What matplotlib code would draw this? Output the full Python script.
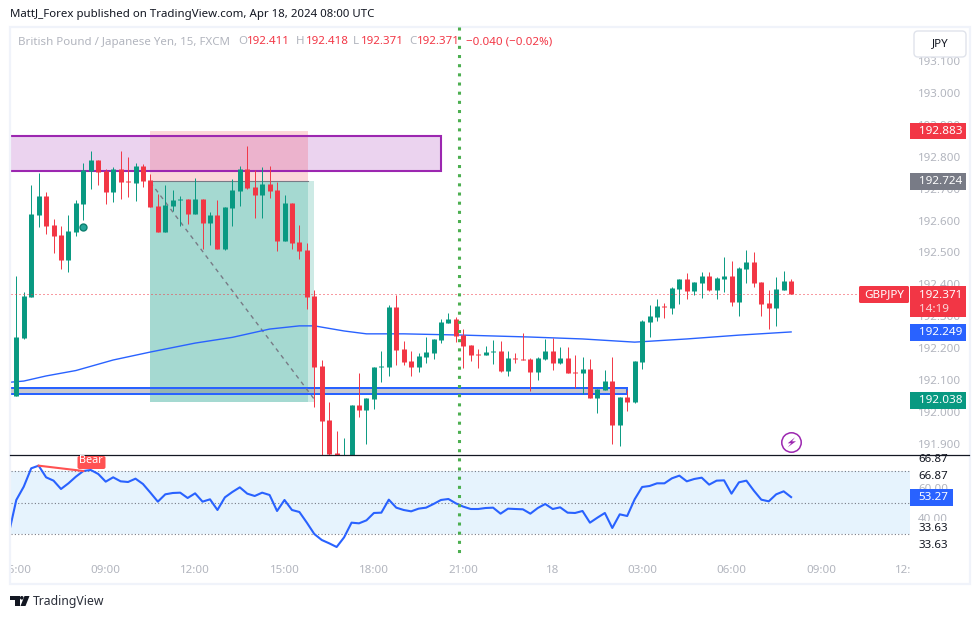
import matplotlib
matplotlib.use('Agg')
import matplotlib.pyplot as plt
from matplotlib.patches import Rectangle,FancyBboxPatch,Polygon,Circle
import numpy as np

plt.rcParams['font.family']=['Noto Sans','DejaVu Sans']

W,H=980,619
GREEN,RED,BLUE,PURPLE='#089981','#f23645','#2962ff','#9c27b0'
GRAY,DARK='#b2b5be','#131722'

# 15 minute bars, first bar is 06:00
opens=[192.050,192.232,192.361,192.618,192.677,192.587,192.555,192.477,192.565,192.653,192.755,192.790,192.755,192.689,192.761,192.724,192.718,192.771,192.727,192.646,192.565,192.646,192.665,192.668,192.621,192.668,192.593,192.618,192.511,192.640,192.692,192.761,192.705,192.680,192.714,192.696,192.536,192.656,192.533,192.508,192.364,192.144,191.975,191.871,191.849,191.849,192.022,192.006,192.041,192.141,192.141,192.329,192.197,192.160,192.141,192.172,192.185,192.226,192.279,192.292,192.241,192.210,192.182,192.179,192.188,192.191,192.129,192.169,192.166,192.166,192.125,192.166,192.191,192.154,192.169,192.125,192.122,192.135,192.044,192.069,192.097,191.959,192.047,192.031,192.157,192.282,192.298,192.332,192.326,192.386,192.417,192.379,192.404,192.426,192.382,192.417,192.426,192.345,192.448,192.470,192.408,192.342,192.326,192.382,192.411]
highs=[192.426,192.376,192.711,192.749,192.689,192.605,192.583,192.618,192.665,192.780,192.818,192.790,192.761,192.768,192.818,192.799,192.780,192.777,192.746,192.683,192.711,192.696,192.677,192.668,192.733,192.668,192.627,192.665,192.643,192.730,192.771,192.834,192.758,192.768,192.771,192.721,192.680,192.656,192.587,192.530,192.382,192.163,192.031,191.940,191.918,192.022,192.122,192.044,192.141,192.191,192.336,192.367,192.222,192.191,192.185,192.235,192.229,192.292,192.310,192.298,192.260,192.210,192.197,192.207,192.226,192.222,192.191,192.185,192.248,192.169,192.172,192.229,192.232,192.204,192.204,192.179,192.172,192.166,192.072,192.132,192.172,192.047,192.069,192.160,192.288,192.336,192.354,192.342,192.392,192.417,192.436,192.408,192.439,192.439,192.423,192.486,192.473,192.455,192.508,192.502,192.408,192.382,192.423,192.442,192.418]
lows=[192.050,192.229,192.361,192.580,192.558,192.499,192.448,192.439,192.552,192.602,192.699,192.711,192.653,192.659,192.668,192.674,192.662,192.705,192.643,192.565,192.565,192.631,192.583,192.590,192.621,192.511,192.524,192.511,192.508,192.583,192.646,192.699,192.608,192.608,192.671,192.505,192.536,192.511,192.480,192.323,192.016,191.865,191.855,191.843,191.843,191.843,191.984,191.900,192.009,192.094,192.113,192.147,192.147,192.113,192.125,192.154,192.166,192.216,192.279,192.219,192.138,192.160,192.138,192.179,192.150,192.125,192.113,192.154,192.163,192.066,192.100,192.163,192.132,192.150,192.122,192.075,192.056,192.044,191.997,192.069,191.900,191.894,192.003,192.028,192.135,192.235,192.285,192.295,192.307,192.339,192.354,192.367,192.357,192.379,192.354,192.376,192.332,192.301,192.404,192.392,192.301,192.260,192.270,192.382,192.371]
closes=[192.235,192.364,192.621,192.677,192.583,192.552,192.477,192.568,192.656,192.758,192.790,192.752,192.689,192.761,192.721,192.721,192.771,192.724,192.643,192.565,192.649,192.665,192.668,192.621,192.668,192.593,192.618,192.511,192.643,192.696,192.761,192.702,192.680,192.714,192.692,192.536,192.656,192.530,192.505,192.361,192.141,191.972,191.868,191.859,191.855,192.022,192.006,192.044,192.141,192.144,192.329,192.194,192.157,192.141,192.175,192.188,192.229,192.282,192.292,192.238,192.207,192.179,192.179,192.188,192.191,192.129,192.169,192.166,192.163,192.125,192.169,192.191,192.154,192.169,192.122,192.122,192.135,192.044,192.072,192.097,191.959,192.047,192.031,192.160,192.285,192.301,192.332,192.329,192.389,192.417,192.379,192.408,192.426,192.382,192.420,192.426,192.345,192.451,192.470,192.404,192.339,192.326,192.386,192.411,192.371]

ema_bars=[-1,1,4,8,13,18,24,29,34,38,40,44,47,52,60,69,76,83,90,97,104]
ema_vals=[192.093,192.097,192.113,192.130,192.163,192.188,192.216,192.234,192.260,192.270,192.270,192.254,192.245,192.245,192.241,192.235,192.229,192.219,192.229,192.241,192.251]

rsi_vals=[34.2,51.75,58.78,68.46,69.86,63.71,61.95,57.55,60.54,64.06,67.05,67.58,65.47,61.42,63.71,61.60,61.24,63.00,60.19,55.61,50.87,54.74,55.44,55.61,52.80,55.26,50.87,52.10,46.47,53.15,55.97,58.43,55.09,53.86,55.61,54.38,45.94,51.75,46.47,45.41,39.78,33.80,30.64,28.88,26.94,32.04,39.78,39.43,41.01,44.89,45.06,51.92,47.70,46.47,45.76,47.17,47.70,49.63,51.75,52.27,49.99,48.23,46.99,46.99,47.52,47.70,44.53,47.17,46.99,46.82,44.53,47.52,49.63,46.99,47.87,45.06,44.89,45.94,39.78,42.42,44.89,36.97,44.18,43.30,52.10,58.60,59.13,60.54,60.54,63.18,64.59,61.60,62.83,63.53,59.84,61.95,62.12,55.09,61.07,61.95,56.67,51.92,51.04,54.74,56.32,53.27]
rsi_levels=[66.87,50,33.63]

price_ticks=[191.9,192.0,192.1,192.2,192.3,192.4,192.5,192.6,192.7,192.8,192.9,193.0,193.1]
time_bars=[0,12,24,36,48,60,72,84,96,108,120]
time_labels=['06:00','09:00','12:00','15:00','18:00','21:00','18','03:00','06:00','09:00','12:00']

last_price=192.371
zone_purple=(-1,57,192.755,192.865)
zone_blue=(-1,82,192.056,192.075)
pos_top,pos_entry,pos_bottom=192.880,192.724,192.032

# pixel helpers, axes are placed by hand to sit on the screenshot
x0,bar=16.3,7.45
def bx(px): return (px-x0)/bar
def pp(py): return 193-(py-93)/319.
def rv(py): return 50-(py-503.3)/1.895
def place(l,t,r,b,**kw): return fig.add_axes([l/W,1-b/H,(r-l)/W,(b-t)/H],**kw)

fig=plt.figure(figsize=(W/100,H/100),dpi=100,facecolor='white')

# price pane
ax=place(11,28,910,455)
ax.set_xlim(bx(11),bx(910))
ax.set_ylim(pp(455),pp(28))
for s in ax.spines.values(): s.set_visible(False)
ax.set_xticks([])
ax.yaxis.tick_right()
ax.set_yticks(price_ticks,['{:.3f}'.format(v) for v in price_ticks])
ax.tick_params('y',length=0,pad=6,labelsize=8.3,labelcolor=GRAY)

px,pw=zone_purple[0],zone_purple[1]-zone_purple[0]
ax.add_patch(Rectangle((px,zone_purple[2]),pw,zone_purple[3]-zone_purple[2],fc=PURPLE,alpha=.2,lw=0,zorder=1))
# position tool
ax.add_patch(Rectangle((18,pos_entry),21.1,pos_top-pos_entry,fc=RED,alpha=.2,lw=0,zorder=1.2))
ax.add_patch(Rectangle((18,pos_bottom),21.1,pos_entry-pos_bottom,fc=GREEN,alpha=.2,lw=0,zorder=1.2))
ax.add_patch(Rectangle((18,pos_bottom),22,pos_entry-pos_bottom,fc=GREEN,alpha=.2,lw=0,zorder=1.2))
ax.add_patch(Rectangle((px,zone_purple[2]),pw,zone_purple[3]-zone_purple[2],fc='none',ec=PURPLE,lw=1.5,zorder=2))
ax.add_patch(Rectangle((zone_blue[0],zone_blue[2]),zone_blue[1]-zone_blue[0],zone_blue[3]-zone_blue[2],fc=(0.47,0.48,0.53,.4),ec=BLUE,lw=1.44,zorder=2))
ax.plot([18,39.1],[pos_entry,pos_entry],color='#787b86',lw=.8,zorder=2)
ax.plot([18,40],[192.72,192.04],color='#787b86',lw=1,ls=(0,(3,3)),zorder=3)

ax.plot(ema_bars,ema_vals,color=BLUE,lw=1,zorder=3)

idx=np.arange(len(opens))
o,h,l,c=map(np.array,(opens,highs,lows,closes))
up=c>=o
cols=np.where(up,GREEN,RED)
tops,bots=np.maximum(o,c),np.minimum(o,c)
# wick and body both as snapped lines so they share a pixel centre
ax.vlines(idx,l,h,colors=cols,lw=.7,zorder=4,snap=True,capstyle='butt')
ax.vlines(idx,bots,np.maximum(tops,bots+0.0032),colors=cols,lw=3.58,zorder=4,snap=True,capstyle='butt')

ax.axhline(last_price,color=RED,lw=.72,ls=(0,(1,3)),zorder=5)
ax.plot([9],[192.580],'o',ms=5,mfc='#26a69a',mec='#0b7f6e',mew=1,zorder=6)
ax.plot([104],[191.905],'o',ms=14,mfc='white',mec=PURPLE,mew=1.1,zorder=6,clip_on=False)

# rsi pane, runs down through the time axis so labels clip at the edges
ax2=place(11,456,910,584)
ax2.set_xlim(bx(11),bx(910))
ax2.set_ylim(rv(584),rv(456))
ax2.axis('off')
ax2.axhspan(rsi_levels[2],rsi_levels[0],color='#2196f3',alpha=.11,lw=0)
for v in rsi_levels:
    ax2.axhline(v,color='#787b86',lw=.8,ls=(0,(1,2)))
ax2.plot(np.arange(-1,len(rsi_vals)-1),rsi_vals,color=BLUE,lw=1.5,zorder=3)
ax2.plot([3,9],[69.86,67.05],color='#ff5252',lw=1.5,zorder=4)
tr=ax2.get_xaxis_transform()
for b,s in zip(time_bars,time_labels):
    ax2.text(b,.109,s,transform=tr,color=GRAY,fontsize=8.3,ha='center',va='center',clip_on=True)

# everything around the panes, in screen pixels
ov=fig.add_axes([0,0,1,1],facecolor='none',zorder=10)
ov.set_xlim(0,W)
ov.set_ylim(H,0)
ov.axis('off')
ov.add_patch(Rectangle((10,27),960,557,fc='none',ec='#f0f3fa',lw=1.6))
ov.plot([10,969],[455.3,455.3],color=DARK,lw=.9)
ov.plot([459.3,459.3],[27,555],color='#4caf50',lw=2.2,ls=(0,(1,2)),zorder=3)

ov.add_patch(Polygon([(795,437.3),(787.7,443.3),(791.3,443.3),(787.7,447.3),(796,441.3),(792,441.3)],fc=PURPLE,ec='none',zorder=4))

ov.add_patch(FancyBboxPatch((77.5,456),28,13,boxstyle='round,pad=0,rounding_size=2',fc='#ff5252',ec='none',zorder=4))
ov.text(91,460.5,'Bear',color='white',fontsize=7.8,ha='center',va='center',zorder=5)

ov.text(10,15,'MattJ_Forex published on TradingView.com, Apr 18, 2024 08:00 UTC',color=DARK,fontsize=8.25,va='center')
ov.text(18,42,'British Pound / Japanese Yen, 15, FXCM',color=GRAY,fontsize=8.3,va='center')
for lab,lx,val,vx in [('O',238,'192.411',247),('H',296,'192.418',306),('L',353,'192.371',361),('C',409,'192.371',417)]:
    ov.text(lx,42,lab,color=GRAY,fontsize=8.3,va='center')
    ov.text(vx,42,val,color=RED,fontsize=8.3,va='center')
ov.text(466,42,'\u22120.040 (\u22120.02%)',color=RED,fontsize=8.3,va='center')

ov.add_patch(FancyBboxPatch((914,31),52,26,boxstyle='round,pad=0,rounding_size=4',fc='white',ec='#e0e3eb',lw=1))
ov.text(940,44,'JPY',color=DARK,fontsize=8.3,ha='center',va='center')

def badge(t,b,l,r,color,label):
    ov.add_patch(Rectangle((l,t),r-l,b-t,fc=color,ec='none',zorder=4))
    ov.text(l+8.5,(t+b)/2,label,color='white',fontsize=8.4,va='center',zorder=5)
badge(123,139,910,966,RED,'192.883')
badge(173,190,910,966,'#787b86','192.724')
badge(286,317,910,966,RED,'')
ov.text(918.5,295,'192.371',color='white',fontsize=8.4,va='center',zorder=5)
ov.text(918.5,309,'14:19',color='#fbd5d8',fontsize=8.4,va='center',zorder=5)
ov.add_patch(FancyBboxPatch((859,286),50,17,boxstyle='round,pad=0,rounding_size=1.5',fc=RED,ec='none',zorder=4))
ov.text(884,295,'GBPJPY',color='white',fontsize=8.4,ha='center',va='center',zorder=5)
badge(324,341,910,966,BLUE,'192.249')
badge(392,409,910,966,GREEN,'192.038')

for v,y in [('60.00',490),('40.00',520)]:
    ov.text(918,y,v,color=GRAY,fontsize=8.3,va='center',zorder=1)
ov.add_patch(Rectangle((912,520.5),50,34,fc='white',ec='none',zorder=2))
badge(489,506,910,953,BLUE,'53.27')
for v,y in [('66.87',459.5),('66.87',476.5),('33.63',528.5),('33.63',546)]:
    ov.text(918,y,v,color=DARK,fontsize=8.3,va='center',zorder=3)

# tradingview logo
ov.add_patch(Polygon([(10,596),(19.5,596),(19.5,606),(15,606),(15,599.5),(10,599.5)],fc=DARK,ec='none'))
ov.add_patch(Circle((21.8,597.8),1.8,fc=DARK,ec='none'))
ov.add_patch(Polygon([(24.5,596),(29.5,596),(25.5,606),(20.5,606)],fc=DARK,ec='none'))
ov.text(33,601,'TradingView',color='#2a2e39',fontsize=8.8,va='center')

fig.savefig('out.png',dpi=100)
